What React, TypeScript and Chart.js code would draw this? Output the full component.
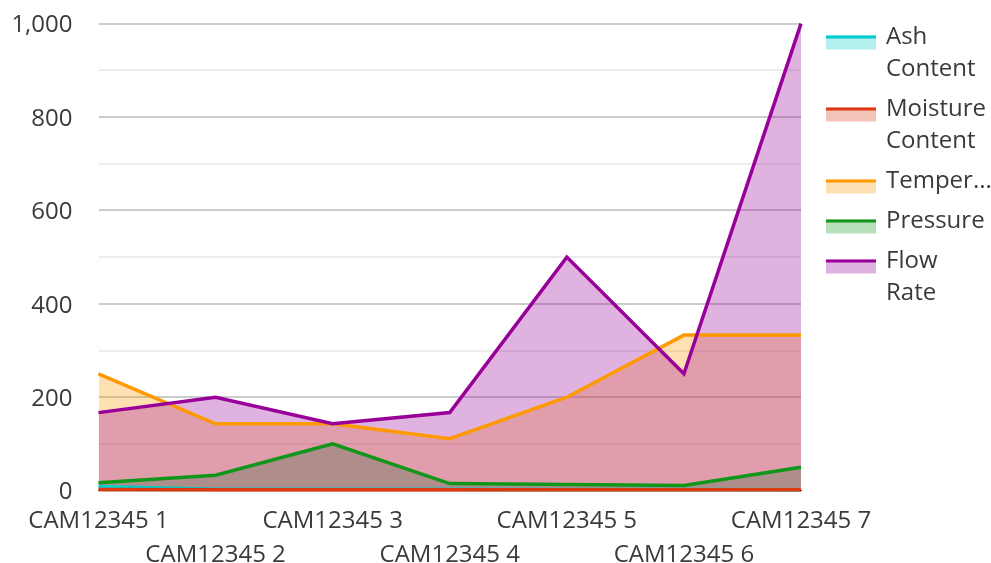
import React, { useEffect, useRef } from 'react';
import { Chart, registerables } from 'chart.js';

Chart.register(...registerables);

const categories = ['CAM12345 1', 'CAM12345 2', 'CAM12345 3', 'CAM12345 4', 'CAM12345 5', 'CAM12345 6', 'CAM12345 7'];
const ashContent = [9, 3, 3, 3, 2.5, 2.5, 2];
const moistureContent = [2.5, 2, 2, 2, 2, 2, 2];
const temperature = [250, 143, 143, 111, 200, 333, 333];
const pressure = [17, 33, 100, 15, 13, 11, 50];
const flowRate = [167, 200, 143, 167, 500, 250, 1000];
const seriesNames = ['Ash Content', 'Moisture Content', 'Temperature', 'Pressure', 'Flow Rate'];
const legendLabels = [['Ash', 'Content'], ['Moisture', 'Content'], ['Temper...'], ['Pressure'], ['Flow', 'Rate']];
const lineColors = ['#00CCCC', '#DC3912', '#FF9900', '#109618', '#990099'];
const fillColors = ['rgba(0,204,204,0.3)', 'rgba(220,57,18,0.3)', 'rgba(255,153,0,0.3)', 'rgba(16,150,24,0.3)', 'rgba(153,0,153,0.3)'];

const TEXT = '#3a3a3a';

const legendBoxPlugin = {
  id: 'legendBoxes',
  afterDraw(chart: any) {
    const legend = chart.legend;
    if (!legend || !legend.legendHitBoxes) return;
    const ctx = chart.ctx;
    ctx.save();
    legend.legendHitBoxes.forEach((hb: any, i: number) => {
      const item = legend.legendItems[i];
      const ds = chart.data.datasets[item.datasetIndex];
      const x = hb.left + 17;
      const y = hb.top + 10.5;
      ctx.fillStyle = ds.backgroundColor;
      ctx.fillRect(x, y, 50, 14);
      ctx.fillStyle = ds.borderColor;
      ctx.fillRect(x, y, 50, 3);
    });
    ctx.restore();
  },
};

export default function App() {
  const ref = useRef<HTMLCanvasElement | null>(null);

  useEffect(() => {
    if (!ref.current) return;
    const values = [ashContent, moistureContent, temperature, pressure, flowRate];
    const datasets = values.map((data, i) => ({
      label: seriesNames[i],
      data,
      borderColor: lineColors[i],
      backgroundColor: fillColors[i],
      borderWidth: 3.5,
      pointRadius: 0,
      pointHoverRadius: 0,
      tension: 0,
      fill: 'origin',
      clip: 4,
      order: values.length - 1 - i,
    }));

    const chart = new Chart(ref.current, {
      type: 'line',
      data: { labels: categories, datasets },
      plugins: [legendBoxPlugin],
      options: {
        animation: false,
        responsive: false,
        layout: { padding: { top: 17, left: 0, right: 0, bottom: 0 } },
        font: { family: "'Open Sans'", size: 24 },
        plugins: {
          filler: { drawTime: 'beforeDatasetsDraw' },
          tooltip: { enabled: false },
          legend: {
            position: 'right',
            align: 'start',
            maxWidth: 190,
            labels: {
              boxWidth: 65,
              boxHeight: 14,
              padding: 8,
              color: TEXT,
              font: { family: "'Open Sans'", size: 24, lineHeight: 32 / 24 },
              sort: (a: any, b: any) => a.datasetIndex - b.datasetIndex,
              generateLabels: (c: any) => {
                const items = Chart.defaults.plugins.legend.labels.generateLabels(c);
                return items.map((it: any) => ({
                  ...it,
                  text: legendLabels[it.datasetIndex],
                  fillStyle: 'rgba(0,0,0,0)',
                  strokeStyle: 'rgba(0,0,0,0)',
                  lineWidth: 0,
                }));
              },
            },
          },
        },
        scales: {
          x: {
            grid: { display: false, drawTicks: false },
            border: { display: true, color: '#333333', width: 1 },
            ticks: {
              autoSkip: false,
              maxRotation: 0,
              minRotation: 0,
              padding: 14,
              color: TEXT,
              font: { family: "'Open Sans'", size: 24, lineHeight: 33.4 / 24 },
              callback: (_v: any, index: number) =>
                index % 2 === 1 ? ['', categories[index]] : categories[index],
            },
            afterFit: (scale: any) => {
              scale.height = 72.4;
            },
          },
          y: {
            min: 0,
            max: 1000,
            grid: {
              drawTicks: false,
              lineWidth: 2,
              color: (ctx: any) => (ctx.tick && ctx.tick.value % 200 === 0 ? '#cccccc' : '#ececec'),
            },
            border: { display: false },
            ticks: {
              stepSize: 100,
              padding: 26,
              labelOffset: 2,
              color: TEXT,
              font: { family: "'Open Sans'", size: 24 },
              callback: (v: any) => (Number(v) % 200 === 0 ? Number(v).toLocaleString('en-US') : ''),
            },
            afterFit: (scale: any) => {
              scale.width = 98.5;
              scale.paddingTop = 23.6;
            },
          },
        },
      } as any,
    });
    return () => chart.destroy();
  }, []);

  return (
    <div style={{ position: 'fixed', left: 0, top: 0, width: 991, height: 563, background: '#ffffff' }}>
      <canvas ref={ref} width={991} height={563} style={{ display: 'block' }} />
    </div>
  );
}
